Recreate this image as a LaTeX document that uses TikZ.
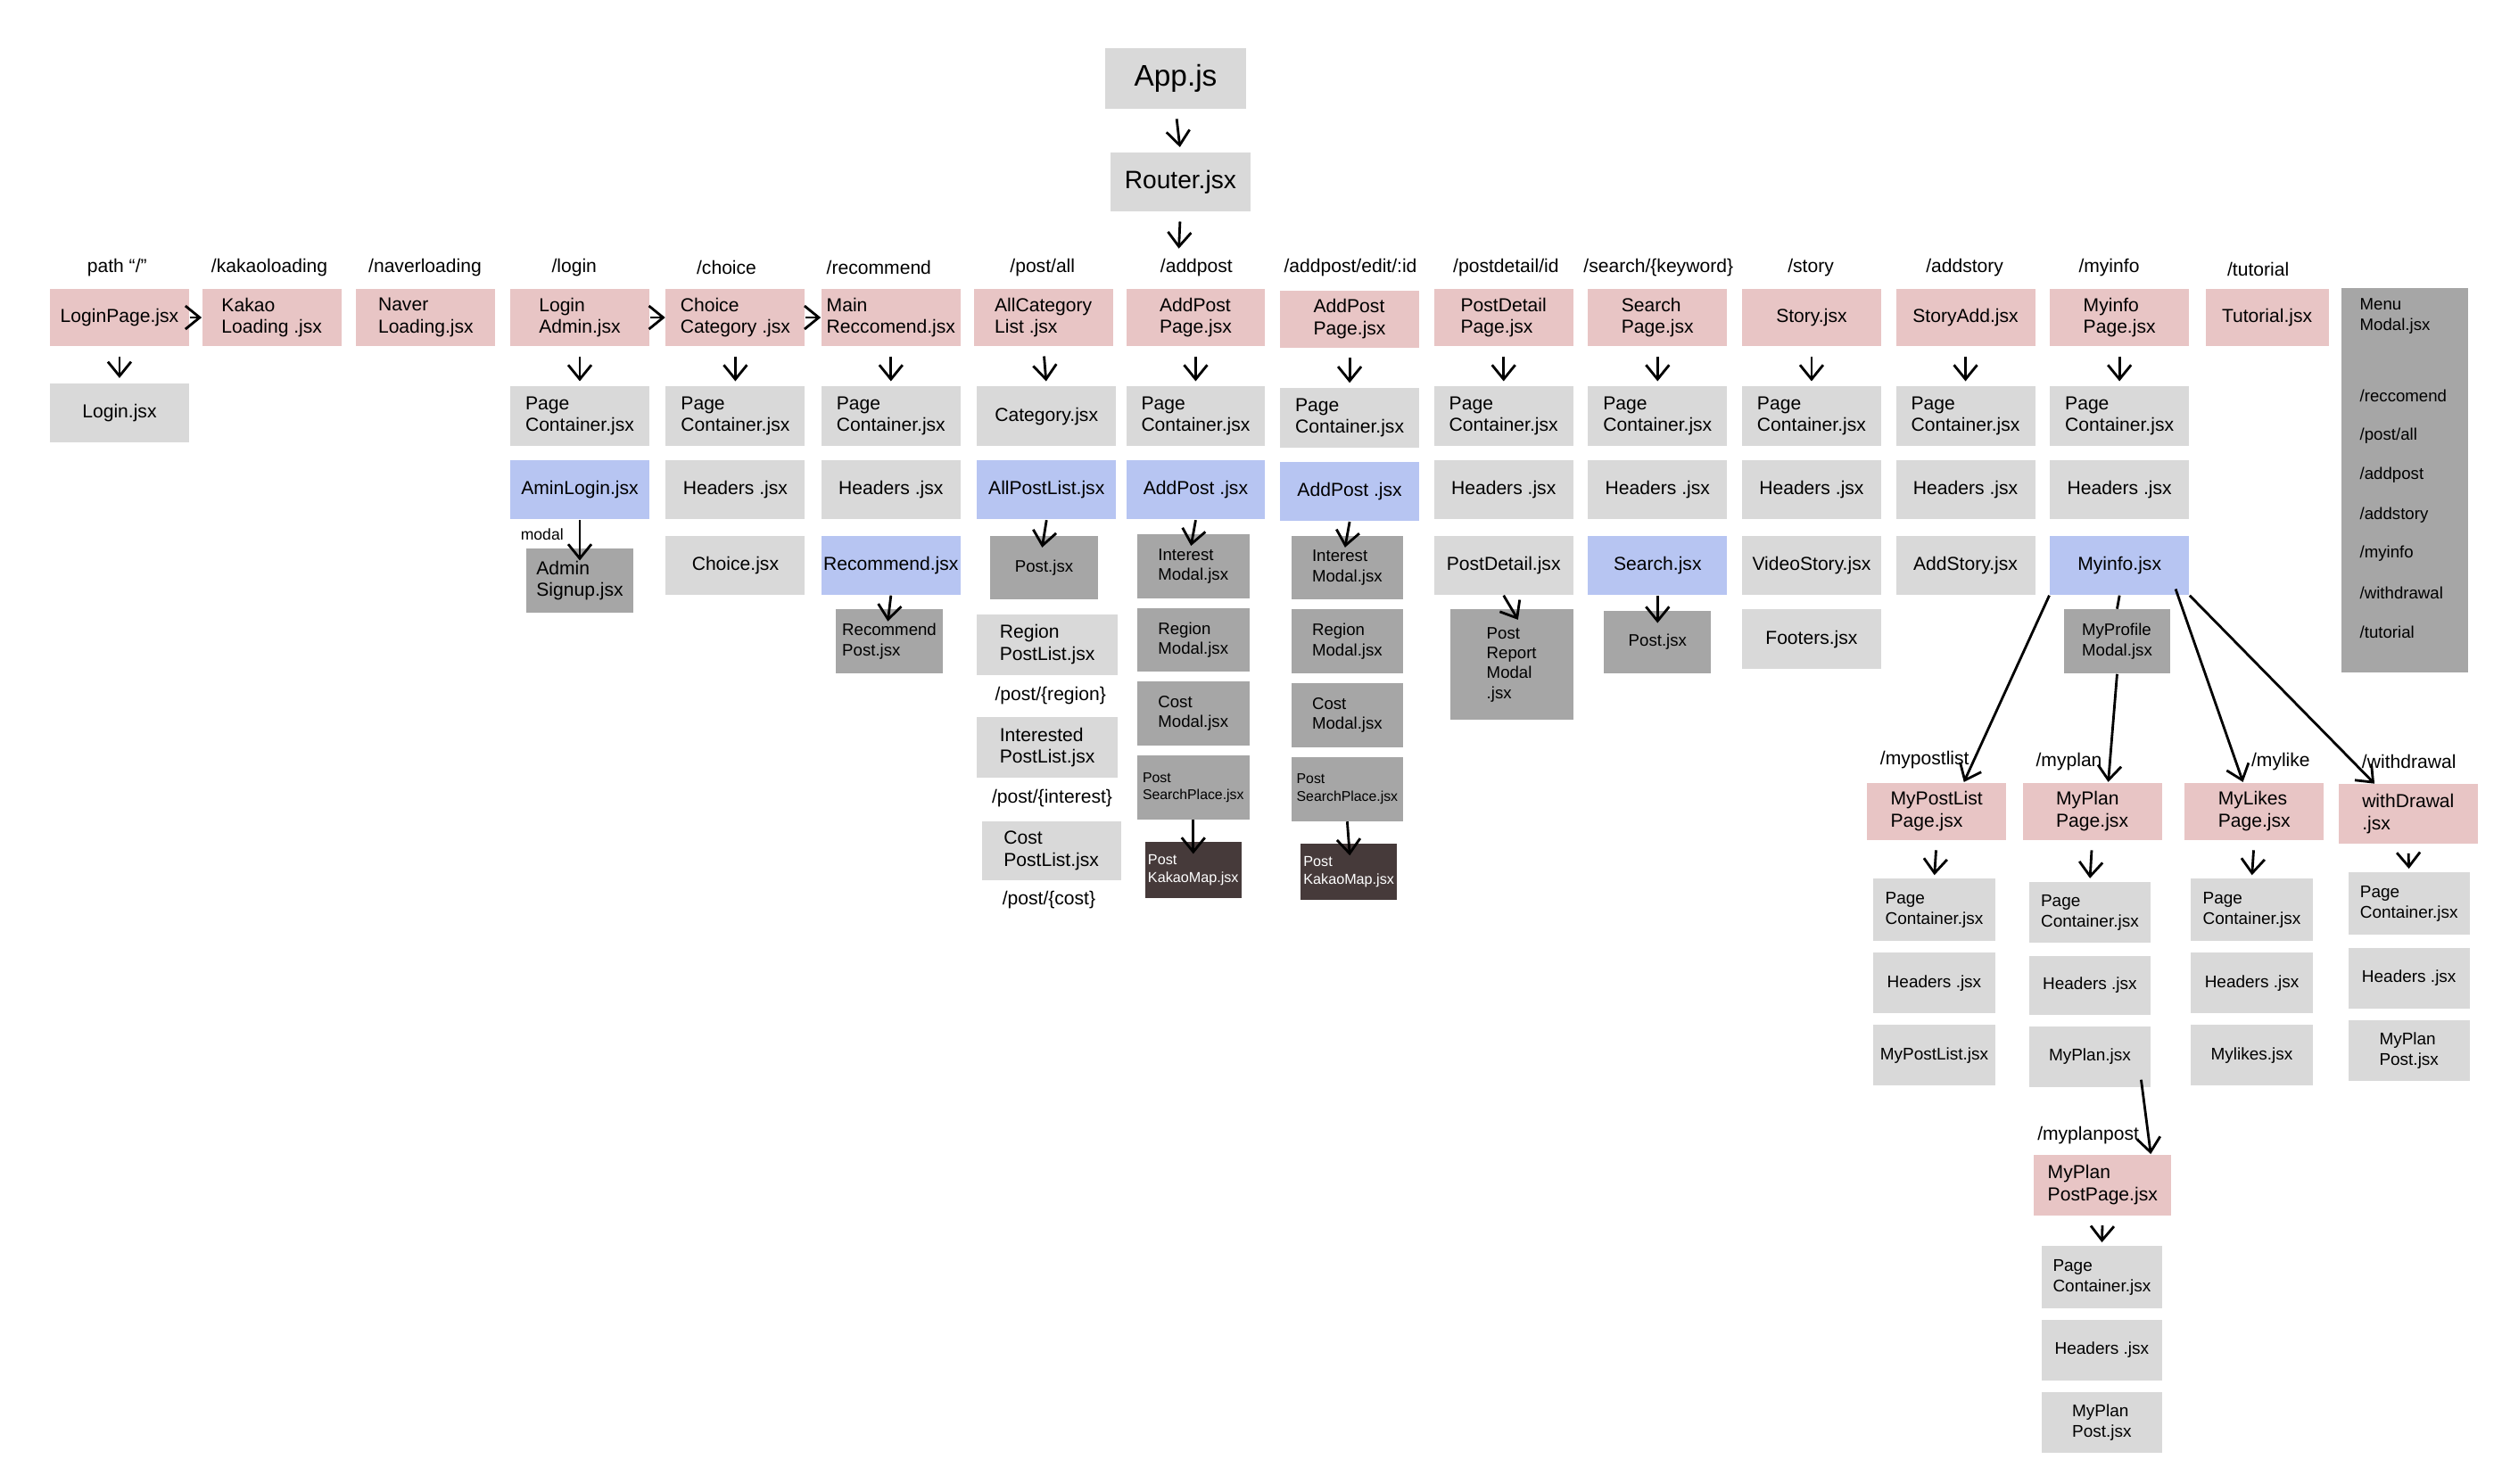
\documentclass[tikz,border=0pt]{standalone}
\usepackage{fontspec}
\setmainfont{Liberation Sans}
\usetikzlibrary{arrows.meta,calc}
\definecolor{pk}{HTML}{E8C5C5}
\definecolor{lg}{HTML}{D9D9D9}
\definecolor{bl}{HTML}{B7C5F2}
\definecolor{dg}{HTML}{A6A6A6}
\definecolor{vd}{HTML}{463A3A}
\tikzset{
 base/.style={rectangle,inner sep=0pt,align=left,font=\fontsize{6}{7}\selectfont},
 pink/.style={base,fill=pk},
 gray/.style={base,fill=lg},
 blue/.style={base,fill=bl},
 dark/.style={base,fill=dg,font=\fontsize{5.3}{6.3}\selectfont},
 vdark/.style={base,fill=vd,text=white,font=\fontsize{4.6}{5.6}\selectfont},
 sm/.style={font=\fontsize{5.4}{6.5}\selectfont},
 lbl/.style={inner sep=0pt,font=\fontsize{6}{7}\selectfont},
 arr/.style={-{Straight Barb[length=1.6mm,width=2.6mm]},line width=0.8pt,shorten <=3pt,shorten >=1.5pt},
 ln/.style={line width=0.8pt}
}
\newcommand\bx[7]{\node[#6,minimum width={(#4-#2)*0.5097pt},minimum height={(#5-#3)*0.5097pt}] (#1) at ({(#2+#4)/2},{(#3+#5)/2}) {#7};}
\begin{document}
\begin{tikzpicture}[x=0.01798cm,y=-0.01798cm]
\useasboundingbox (0,0) rectangle (1560,925.4);
% top
\bx{app}{689}{30}{777}{68}{gray,font=\fontsize{9.5}{11}\selectfont}{App.js}
\bx{rt}{692}{95}{780}{132}{gray,font=\fontsize{8}{9.5}\selectfont}{Router.jsx}
\coordinate (rtend) at (735,155);
\draw[arr] (app.south) -- (rt.north);
\draw[arr,shorten >=0pt] (rt.south) -- (rtend);
% route labels
\foreach \t/\x in {{path ``/''}/73,{/kakaoloading}/168,{/naverloading}/265,{/login}/358,{/choice}/453,{/recommend}/548,{/post/all}/650,{/addpost}/746,{/addpost/edit/:id}/842,{/postdetail/id}/939,{/search/\{keyword\}}/1034,{/story}/1129,{/addstory}/1225,{/myinfo}/1315}
  \node[lbl] (l\x) at (\x,167) {\t};
\node[lbl] (ltut) at (1408,168) {/tutorial};
% row 1
\bx{c1}{31}{180}{118}{216}{pink}{LoginPage.jsx}
\bx{c2}{126}{180}{213}{216}{pink}{Kakao\\Loading .jsx}
\bx{c3}{222}{180}{309}{216}{pink}{Naver\\Loading.jsx}
\bx{c4}{318}{180}{405}{216}{pink}{Login\\Admin.jsx}
\bx{c5}{415}{180}{502}{216}{pink}{Choice\\Category .jsx}
\bx{c6}{512}{180}{599}{216}{pink}{Main\\Reccomend.jsx}
\bx{c7}{607}{180}{694}{216}{pink}{AllCategory\\List .jsx}
\bx{c8}{702}{180}{789}{216}{pink}{AddPost\\Page.jsx}
\bx{c9}{798}{181}{885}{217}{pink}{AddPost\\Page.jsx}
\bx{c10}{894}{180}{981}{216}{pink}{PostDetail\\Page.jsx}
\bx{c11}{990}{180}{1077}{216}{pink}{Search\\Page.jsx}
\bx{c12}{1086}{180}{1173}{216}{pink}{Story.jsx}
\bx{c13}{1182}{180}{1269}{216}{pink}{StoryAdd.jsx}
\bx{c14}{1278}{180}{1365}{216}{pink}{Myinfo\\Page.jsx}
\bx{c15}{1375}{180}{1452}{216}{pink}{Tutorial.jsx}
\node[dark,fill=dg,minimum width={79*0.5097pt},minimum height={241*0.5097pt}] (menu) at (1499.5,299.5) {};
\node[dark,fill=none,anchor=north west] (menut) at (1471,186) {Menu\\Modal.jsx};
\foreach \t/\y in {{/reccomend}/247,{/post/all}/272,{/addpost}/296,{/addstory}/321,{/myinfo}/345,{/withdrawal}/370,{/tutorial}/394}
  \node[dark,fill=none,anchor=west] (m\y) at (1471,\y) {\t};
\draw[arr,shorten <=0pt,shorten >=0pt] (c1.east) -- (c2.west);
\draw[arr,shorten <=0pt,shorten >=0pt] (c4.east) -- (c5.west);
\draw[arr,shorten <=0pt,shorten >=0pt] (c5.east) -- (c6.west);
% col1
\bx{c1a}{31}{239}{118}{276}{gray}{Login.jsx}
% login
\bx{c4a}{318}{241}{405}{278}{gray}{Page\\Container.jsx}
\bx{c4b}{318}{287}{405}{324}{blue}{AminLogin.jsx}
\bx{c4c}{328}{342}{395}{382}{dark,font=\fontsize{6}{7}\selectfont}{Admin\\Signup.jsx}
\node[lbl,font=\fontsize{5}{6}\selectfont] (modal) at (338,333) {modal};
% choice
\bx{c5a}{415}{241}{502}{278}{gray}{Page\\Container.jsx}
\bx{c5b}{415}{287}{502}{324}{gray}{Headers .jsx}
\bx{c5c}{415}{334}{502}{371}{gray}{Choice.jsx}
% recommend
\bx{c6a}{512}{241}{599}{278}{gray}{Page\\Container.jsx}
\bx{c6b}{512}{287}{599}{324}{gray}{Headers .jsx}
\bx{c6c}{512}{334}{599}{371}{blue}{Recommend.jsx}
\bx{c6d}{521}{380}{588}{420}{dark}{Recommend\\Post.jsx}
% post/all
\bx{c7a}{609}{241}{696}{278}{gray}{Category.jsx}
\bx{c7b}{609}{287}{696}{324}{blue}{AllPostList.jsx}
\bx{c7c}{617}{334}{685}{374}{dark}{Post.jsx}
\bx{c7d}{609}{383}{697}{421}{gray}{Region\\PostList.jsx}
\node[lbl] (lreg) at (655,434) {/post/\{region\}};
\bx{c7e}{609}{447}{697}{485}{gray}{Interested\\PostList.jsx}
\node[lbl] (lint) at (656,498) {/post/\{interest\}};
\bx{c7f}{612}{512}{699}{549}{gray}{Cost\\PostList.jsx}
\node[lbl] (lcost) at (654,561) {/post/\{cost\}};
% addpost
\bx{c8a}{702}{241}{789}{278}{gray}{Page\\Container.jsx}
\bx{c8b}{702}{287}{789}{324}{blue}{AddPost .jsx}
\bx{c8c}{709}{333}{779}{373}{dark}{Interest\\Modal.jsx}
\bx{c8d}{709}{379}{779}{419}{dark}{Region\\Modal.jsx}
\bx{c8e}{709}{425}{779}{465}{dark}{Cost\\Modal.jsx}
\bx{c8f}{709}{471}{779}{511}{dark,font=\fontsize{4.5}{5.5}\selectfont}{Post\\SearchPlace.jsx}
\bx{c8g}{714}{525}{774}{560}{vdark}{Post\\KakaoMap.jsx}
% edit
\bx{c9a}{798}{242}{885}{279}{gray}{Page\\Container.jsx}
\bx{c9b}{798}{288}{885}{325}{blue}{AddPost .jsx}
\bx{c9c}{805}{334}{875}{374}{dark}{Interest\\Modal.jsx}
\bx{c9d}{805}{380}{875}{420}{dark}{Region\\Modal.jsx}
\bx{c9e}{805}{426}{875}{466}{dark}{Cost\\Modal.jsx}
\bx{c9f}{805}{472}{875}{512}{dark,font=\fontsize{4.5}{5.5}\selectfont}{Post\\SearchPlace.jsx}
\bx{c9g}{811}{526}{871}{561}{vdark}{Post\\KakaoMap.jsx}
% postdetail
\bx{c10a}{894}{241}{981}{278}{gray}{Page\\Container.jsx}
\bx{c10b}{894}{287}{981}{324}{gray}{Headers .jsx}
\bx{c10c}{894}{334}{981}{371}{gray}{PostDetail.jsx}
\bx{c10d}{904}{380}{981}{449}{dark}{Post\\Report\\Modal\\.jsx}
% search
\bx{c11a}{990}{241}{1077}{278}{gray}{Page\\Container.jsx}
\bx{c11b}{990}{287}{1077}{324}{gray}{Headers .jsx}
\bx{c11c}{990}{334}{1077}{371}{blue}{Search.jsx}
\bx{c11d}{1000}{381}{1067}{420}{dark}{Post.jsx}
% story
\bx{c12a}{1086}{241}{1173}{278}{gray}{Page\\Container.jsx}
\bx{c12b}{1086}{287}{1173}{324}{gray}{Headers .jsx}
\bx{c12c}{1086}{334}{1173}{371}{gray}{VideoStory.jsx}
\bx{c12d}{1086}{380}{1173}{417}{gray}{Footers.jsx}
% addstory
\bx{c13a}{1182}{241}{1269}{278}{gray}{Page\\Container.jsx}
\bx{c13b}{1182}{287}{1269}{324}{gray}{Headers .jsx}
\bx{c13c}{1182}{334}{1269}{371}{gray}{AddStory.jsx}
% myinfo
\bx{c14a}{1278}{241}{1365}{278}{gray}{Page\\Container.jsx}
\bx{c14b}{1278}{287}{1365}{324}{gray}{Headers .jsx}
\bx{c14c}{1278}{334}{1365}{371}{blue}{Myinfo.jsx}
\bx{prof}{1287}{380}{1353}{420}{dark}{MyProfile\\Modal.jsx}
% down arrows
\foreach \a/\b in {c1/c1a,c4/c4a,c5/c5a,c6/c6a,c7/c7a,c8/c8a,c9/c9a,c10/c10a,c11/c11a,c12/c12a,c13/c13a,c14/c14a}
  \draw[arr] (\a.south) -- (\b.north);
\foreach \a/\b in {c4b/c4c,c6c/c6d,c7b/c7c,c8b/c8c,c9b/c9c,c10c/c10d,c11c/c11d,c8f/c8g,c9f/c9g}
  \draw[arr,shorten <=0pt,shorten >=-4pt] (\a.south) -- (\b.north);
% my boxes
\bx{mpl}{1164}{488}{1251}{524}{pink}{MyPostList\\Page.jsx}
\bx{mpn}{1261}{488}{1348}{524}{pink}{MyPlan\\Page.jsx}
\bx{mlk}{1362}{488}{1449}{524}{pink}{MyLikes\\Page.jsx}
\bx{wd}{1458}{489}{1545}{526}{pink}{withDrawal\\.jsx}
\node[lbl] (lmpl) at (1200,474) {/mypostlist};
\node[lbl] (lmpn) at (1290,475) {/myplan};
\node[lbl] (lmlk) at (1422,475) {/mylike};
\node[lbl] (lwd) at (1502,475) {/withdrawal};
\bx{mpla}{1168}{548}{1244}{587}{gray,sm}{Page\\Container.jsx}
\bx{mplb}{1168}{594}{1244}{632}{gray,sm}{Headers .jsx}
\bx{mplc}{1168}{639}{1244}{677}{gray,sm}{MyPostList.jsx}
\bx{mpna}{1265}{550}{1341}{588}{gray,sm}{Page\\Container.jsx}
\bx{mpnb}{1265}{596}{1341}{633}{gray,sm}{Headers .jsx}
\bx{mpnc}{1265}{640}{1341}{678}{gray,sm}{MyPlan.jsx}
\bx{mlka}{1366}{548}{1442}{587}{gray,sm}{Page\\Container.jsx}
\bx{mlkb}{1366}{594}{1442}{632}{gray,sm}{Headers .jsx}
\bx{mlkc}{1366}{639}{1442}{677}{gray,sm}{Mylikes.jsx}
\bx{wda}{1464}{544}{1540}{583}{gray,sm}{Page\\Container.jsx}
\bx{wdb}{1464}{591}{1540}{629}{gray,sm}{Headers .jsx}
\bx{wdc}{1464}{636}{1540}{674}{gray,sm}{MyPlan\\Post.jsx}
\node[lbl] (lmpp) at (1302,708) {/myplanpost};
\bx{mpp}{1268}{720}{1354}{758}{pink}{MyPlan\\PostPage.jsx}
\bx{mppa}{1273}{777}{1348}{816}{gray,sm}{Page\\Container.jsx}
\bx{mppb}{1273}{823}{1348}{861}{gray,sm}{Headers .jsx}
\bx{mppc}{1273}{868}{1348}{906}{gray,sm}{MyPlan\\Post.jsx}
\foreach \a/\b in {mpl/mpla,mpn/mpna,mlk/mlka,wd/wda,mpp/mppa}
  \draw[arr,shorten <=3pt,shorten >=1pt] (\a.south) -- (\b.north);
% myinfo connectors
\draw[arr,shorten <=0pt,shorten >=0pt] (c14c.south west) -- ($(mpl.north)+(17,0)$);
\draw[ln] (c14c.south) -- (prof.north);
\draw[arr,shorten <=0pt,shorten >=0pt] (prof.south) -- ($(mpn.north)+(10,0)$);
\draw[arr,shorten <=0pt,shorten >=0pt] ($(c14c.south)+(35,-4)$) -- ($(mlk.north)+(-7,0)$);
\draw[arr,shorten <=0pt,shorten >=0pt] (c14c.south east) -- ($(wd.north)+(-21,0)$);
\draw[arr,shorten <=0pt,shorten >=0pt] ($(mpnc.south)+(32,-5)$) -- ($(mpp.north)+(30,0)$);
\end{tikzpicture}
\end{document}
